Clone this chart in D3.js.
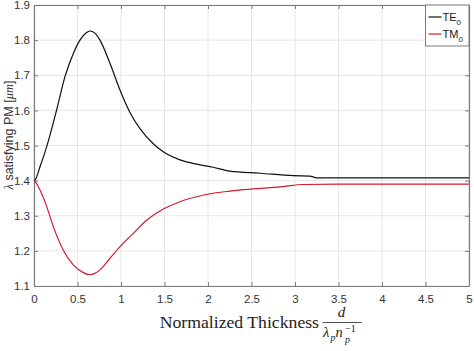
<!DOCTYPE html>
<html>
<head>
<meta charset="utf-8">
<script src="https://cdn.jsdelivr.net/npm/d3@7"></script>
<style>
  body { margin: 0; background: #fff; }
  svg { display: block; }
</style>
</head>
<body>
<div id="chart"></div>
<script>
// data
const teX = [0, 0.01, 0.07, 0.146, 0.26, 0.356, 0.452, 0.528, 0.6, 0.643, 0.7, 0.758, 0.873, 0.988, 1.103, 1.218, 1.371, 1.486, 1.677, 1.869, 2.06, 2.25, 2.6, 2.98, 3.17, 3.25, 3.5, 4, 4.5, 5];
const teY = [1.40, 1.401, 1.44, 1.497, 1.601, 1.696, 1.762, 1.800, 1.821, 1.826, 1.820, 1.800, 1.734, 1.658, 1.594, 1.548, 1.505, 1.482, 1.459, 1.447, 1.438, 1.427, 1.421, 1.414, 1.413, 1.408, 1.408, 1.408, 1.408, 1.408];
const tmX = [0, 0.011, 0.069, 0.146, 0.222, 0.337, 0.452, 0.567, 0.643, 0.7, 0.758, 0.873, 0.988, 1.141, 1.294, 1.486, 1.677, 1.869, 2.06, 2.25, 2.6, 2.86, 3.09, 3.5, 4, 4.5, 5];
const tmY = [1.40, 1.398, 1.373, 1.326, 1.269, 1.202, 1.160, 1.138, 1.132, 1.136, 1.146, 1.179, 1.212, 1.250, 1.287, 1.319, 1.340, 1.354, 1.364, 1.370, 1.378, 1.383, 1.389, 1.390, 1.390, 1.390, 1.390];
const xTicks = [0, 0.5, 1, 1.5, 2, 2.5, 3, 3.5, 4, 4.5, 5];
const yTicks = [1.1, 1.2, 1.3, 1.4, 1.5, 1.6, 1.7, 1.8, 1.9];
const seriesNames = ["TE", "TM"];

const W = 474, H = 351;
const margin = {top: 5, right: 5, bottom: 65, left: 34};
const width = W - margin.left - margin.right,
      height = H - margin.top - margin.bottom;

const svg = d3.select("#chart").append("svg")
    .attr("width", W).attr("height", H)
    .style("font-family", "Liberation Sans, Arial, sans-serif");

const g = svg.append("g").attr("transform", `translate(${margin.left},${margin.top})`);

const x = d3.scaleLinear().domain([0, 5]).range([0, width]);
const y = d3.scaleLinear().domain([1.1, 1.9]).range([height, 0]);

// grid
g.append("g").selectAll("line").data(xTicks).join("line")
  .attr("x1", d => x(d)).attr("x2", d => x(d))
  .attr("y1", 0).attr("y2", height)
  .attr("stroke", "#e6e6e6").attr("stroke-width", 1);
g.append("g").selectAll("line").data(yTicks).join("line")
  .attr("y1", d => y(d)).attr("y2", d => y(d))
  .attr("x1", 0).attr("x2", width)
  .attr("stroke", "#e6e6e6").attr("stroke-width", 1);

// axes (matlab style: ticks inward, box on)
const axisColor = "#7a7a7a";
const xAxis = g.append("g").attr("transform", `translate(0,${height})`)
  .call(d3.axisBottom(x).tickValues(xTicks).tickSizeInner(-4).tickSizeOuter(0).tickPadding(9).tickFormat(d3.format("")));
const xTop = g.append("g")
  .call(d3.axisTop(x).tickValues(xTicks).tickSizeInner(-4).tickSizeOuter(0).tickFormat(""));
const yAxis = g.append("g")
  .call(d3.axisLeft(y).tickValues(yTicks).tickSizeInner(-4).tickSizeOuter(0).tickPadding(4).tickFormat(d3.format(".1f")));
const yRight = g.append("g").attr("transform", `translate(${width},0)`)
  .call(d3.axisRight(y).tickValues(yTicks).tickSizeInner(-4).tickSizeOuter(0).tickFormat(""));

[xAxis, xTop, yAxis, yRight].forEach(a => {
  a.select(".domain").attr("stroke", axisColor).attr("stroke-width", 1.2);
  a.selectAll(".tick line").attr("stroke", axisColor);
  a.selectAll("text").attr("fill", "#333").attr("font-size", 11.5)
    .attr("font-family", "Liberation Sans, Arial, sans-serif");
});

// lines
const line = d3.line().curve(d3.curveMonotoneX)
  .x(d => x(d[0])).y(d => y(d[1]));
const teData = teX.map((v, i) => [v, teY[i]]);
const tmData = tmX.map((v, i) => [v, tmY[i]]);
const colors = {TE: "#111", TM: "#d7192e"};

g.append("path").datum(teData).attr("fill", "none")
  .attr("stroke", colors.TE).attr("stroke-width", 1.2).attr("d", line);
g.append("path").datum(tmData).attr("fill", "none")
  .attr("stroke", colors.TM).attr("stroke-width", 1.2).attr("d", line);

// legend
const lgX = x(4.5), lgW = width - x(4.5);
const legend = g.append("g");
legend.append("rect")
  .attr("x", lgX).attr("y", 0).attr("width", lgW).attr("height", 41)
  .attr("fill", "#fff").attr("stroke", axisColor).attr("stroke-width", 1);
const items = legend.selectAll("g.item").data(seriesNames).join("g")
  .attr("class", "item")
  .attr("transform", (d, i) => `translate(${lgX},${12 + i * 17})`);
items.append("line")
  .attr("x1", 3).attr("x2", 16).attr("y1", 0).attr("y2", 0)
  .attr("stroke", d => colors[d]).attr("stroke-width", 1.2);
const lt = items.append("text")
  .attr("x", 17).attr("y", 4)
  .attr("font-size", 11).attr("fill", "#222");
lt.append("tspan").text(d => d);
lt.append("tspan").attr("dy", 4).attr("font-size", 8).text("0");

// y label
svg.append("text")
  .attr("transform", "translate(13,135) rotate(-90)")
  .attr("text-anchor", "middle")
  .attr("font-size", 12.5).attr("fill", "#333")
  .call(t => {
    t.append("tspan").attr("font-family", "Liberation Serif, serif").attr("font-style", "italic").text("λ");
    t.append("tspan").text(" satisfying PM [");
    t.append("tspan").attr("font-family", "Liberation Serif, serif").attr("font-style", "italic").text("μm");
    t.append("tspan").text("]");
  });

// x label
const xl = svg.append("g").attr("font-family", "Liberation Serif, 'DejaVu Serif', serif").attr("fill", "#222");
xl.append("text")
  .attr("x", 319).attr("y", 328)
  .attr("text-anchor", "end").attr("font-size", 17.7)
  .text("Normalized Thickness");
xl.append("text")
  .attr("x", 341.5).attr("y", 317)
  .attr("text-anchor", "middle").attr("font-size", 15).attr("font-style", "italic")
  .text("d");
xl.append("line")
  .attr("x1", 322.5).attr("x2", 361.5).attr("y1", 322.5).attr("y2", 322.5)
  .attr("stroke", "#222").attr("stroke-width", 0.8);
// denominator: lambda_p n_p^{-1}
xl.append("text").attr("x", 323).attr("y", 337)
  .attr("font-size", 14.5).attr("font-style", "italic").text("λ");
xl.append("text").attr("x", 330.5).attr("y", 341)
  .attr("font-size", 10).attr("font-style", "italic").text("p");
xl.append("text").attr("x", 335.5).attr("y", 337)
  .attr("font-size", 14.5).attr("font-style", "italic").text("n");
xl.append("text").attr("x", 345).attr("y", 332)
  .attr("font-size", 10).text("−1");
xl.append("text").attr("x", 345).attr("y", 343)
  .attr("font-size", 10).attr("font-style", "italic").text("p");
</script>
</body>
</html>
